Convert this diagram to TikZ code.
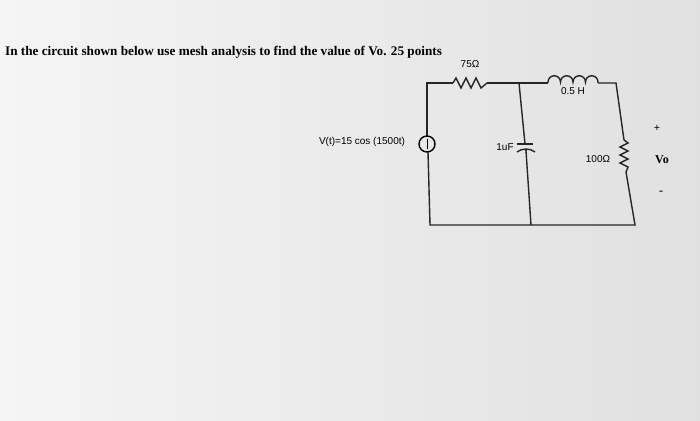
\documentclass[tikz,border=0pt]{standalone}
\usepackage{fontspec}
\setmainfont{Liberation Serif}
\newfontfamily\lab{Liberation Sans}
\begin{document}
\begin{tikzpicture}[x=1pt,y=-1pt,
  wire/.style={line width=1.4pt,black!85},
  lbl/.style={font=\lab\fontsize{10}{11}\selectfont,inner sep=0pt}]
\shade[left color=black!4,right color=black!12] (0,0) rectangle (700,420);
\useasboundingbox (0,0) rectangle (700,420);
\node[anchor=west,inner sep=0pt,font=\bfseries\fontsize{13.2}{14}\selectfont] (title) at (5,52) {In the circuit shown below use mesh analysis to find the value of Vo. 25 points};
\coordinate (tl) at (427,83); \coordinate (tm) at (519,83); \coordinate (tr) at (616,83);
\coordinate (bl) at (430,225); \coordinate (bm) at (531,225); \coordinate (br) at (635,225);
\coordinate (r1a) at (453,83); \coordinate (r1b) at (487,83);
\coordinate (l1a) at (548,83); \coordinate (l1b) at (598,83);
\coordinate (sa) at (427,136); \coordinate (sb) at (428,152);
\coordinate (ca) at (525,144); \coordinate (cb) at (526,151);
\coordinate (r2a) at (624,140); \coordinate (r2b) at (626,172);
% wires
\draw[wire] (r1a) -- (tl) -- (sa);
\draw[wire] (sb) -- (bl) -- (bm) -- (br) -- (r2b);
\draw[wire] (r1b) -- (tm) -- (l1a);
\draw[wire] (l1b) -- (tr) -- (r2a);
\draw[wire] (tm) -- (ca); \draw[wire] (cb) -- (bm);
% resistor 75
\draw[wire] (r1a) -- ++(3,-5) -- ++(5,10) -- ++(5,-10) -- ++(5,10) -- ++(5,-10) -- ++(5,10) -- (r1b);
% inductor
\draw[wire] (l1a) -- ++(0,-1) arc[start angle=180,end angle=360,radius=6.25] arc[start angle=180,end angle=360,radius=6.25] arc[start angle=180,end angle=360,radius=6.25] arc[start angle=180,end angle=360,radius=6.25] -- (l1b);
% resistor 100
\draw[wire] (r2a) -- ++(4,3) -- ++(-8,4) -- ++(8,4) -- ++(-8,4) -- ++(8,4) -- ++(-8,4) -- ++(8,4) -- (r2b);
% source
\node[draw,circle,line width=1.4pt,minimum size=16pt,inner sep=0pt] (src) at (427,144) {};
\draw[line width=1pt] (427,139) -- (427,149);
% capacitor
\draw[wire] (517,144) -- (533,144);
\draw[wire] (517,152) .. controls (522,148) and (530,148) .. (535,152);
\draw[wire] (526,149) -- (cb);
% labels
\node[lbl] (l75) at (470,64) {75Ω};
\node[lbl] (l05) at (573,91) {0.5 H};
\node[lbl] (lv) at (362,142) {V(t)=15 cos (1500t)};
\node[lbl] (lc) at (505,147) {1uF};
\node[lbl] (l100) at (598,159) {100Ω};
\node[inner sep=0pt,font=\bfseries\fontsize{11}{12}\selectfont] (plus) at (657,128) {+};
\node[inner sep=0pt,font=\bfseries\fontsize{12}{13}\selectfont] (vo) at (662,160) {Vo};
\node[inner sep=0pt,font=\bfseries\fontsize{12}{13}\selectfont] (minus) at (661,193) {-};
\end{tikzpicture}
\end{document}
